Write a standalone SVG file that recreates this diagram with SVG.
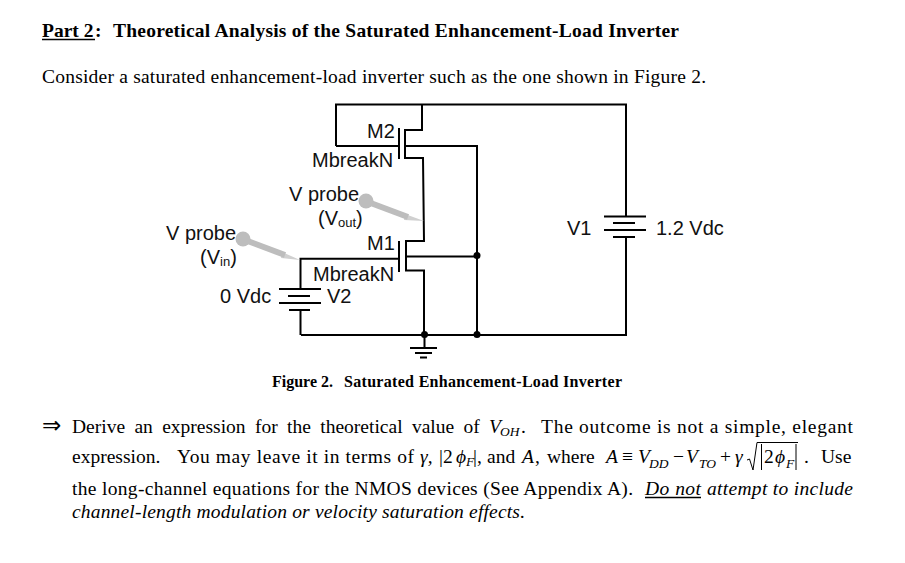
<svg xmlns="http://www.w3.org/2000/svg" width="905" height="563" viewBox="0 0 905 563">
<style>
.t{font-family:"Liberation Serif","Times New Roman",serif;font-size:19.5px;fill:#000}
.b{font-weight:bold}
.i{font-style:italic}
.u{font-size:13.500px}
.c{font-size:16px}
.s{font-family:"Liberation Sans",Arial,sans-serif;font-size:20px;fill:#111}
.w{fill:none;stroke:#000;stroke-width:2}
.p{fill:none;stroke:#bdbdbd;stroke-width:6}
.e{fill:#bdbdbd}
.g{fill:#d0d0d0}
</style>
<rect width="905" height="563" fill="#fff"/>
<g id="text">
<text class="t b" x="42" y="37">Part 2</text>
<path d="M42 39.500H95" stroke="#000" stroke-width="1.500" fill="none"/>
<text class="t b" x="95" y="37">:</text>
<text class="t b" x="113" y="37" textLength="566" lengthAdjust="spacing">Theoretical Analysis of the Saturated Enhancement-Load Inverter</text>
<text class="t" x="42" y="83" textLength="664" lengthAdjust="spacing">Consider a saturated enhancement-load inverter such as the one shown in Figure 2.</text>
<text class="t b c" x="272" y="387">Figure 2.</text>
<text class="t b c" x="344" y="387" textLength="278" lengthAdjust="spacing">Saturated Enhancement-Load Inverter</text>
<text x="42" y="433" style="font-family:'DejaVu Sans',sans-serif;font-size:23px">⇒</text>
<text class="t" x="72" y="433" style="word-spacing:4.500px">Derive an expression for the theoretical value of</text>
<text class="t i" x="489" y="433">V</text>
<text class="t i u" x="500" y="436">OH</text>
<text class="t" x="521" y="433">.</text>
<text class="t" x="541" y="433" textLength="312" lengthAdjust="spacing">The outcome is not a simple, elegant</text>
<text class="t" x="72" y="463">expression.</text>
<text class="t" x="177" y="463" textLength="237" lengthAdjust="spacing">You may leave it in terms of</text>
<text class="t i" x="420" y="463">γ,</text>
<text class="t" x="439" y="463">|2</text>
<text class="t i" x="456" y="463">ϕ</text>
<text class="t i u" x="466" y="466">F</text>
<text class="t" x="473" y="463">|,</text>
<text class="t" x="487" y="463">and</text>
<text class="t i" x="522" y="463">A</text>
<text class="t" x="535" y="463">,</text>
<text class="t" x="547" y="463">where</text>
<text class="t i" x="606" y="463">A</text>
<text class="t" x="622" y="463">≡</text>
<text class="t i" x="638" y="463">V</text>
<text class="t i u" x="649" y="468">DD</text>
<text class="t" x="673" y="463">−</text>
<text class="t i" x="686" y="463">V</text>
<text class="t i u" x="699" y="468">TO</text>
<text class="t" x="720" y="463">+</text>
<text class="t i" x="735" y="463">γ</text>
<text class="t" x="764" y="463">2</text>
<text class="t i" x="775" y="463">ϕ</text>
<text class="t i u" x="786" y="468">F</text>
<text class="t" x="804" y="463">.</text>
<text class="t" x="821" y="463">Use</text>
<text class="t" x="72" y="495" textLength="561" lengthAdjust="spacing">the long-channel equations for the NMOS devices (See Appendix A).</text>
<text class="t i" x="645" y="495" textLength="56" lengthAdjust="spacing">Do not</text>
<path d="M645 497.500H701" stroke="#000" stroke-width="1.500" fill="none"/>
<text class="t i" x="707" y="495" textLength="146" lengthAdjust="spacing">attempt to include</text>
<text class="t i" x="72" y="518" textLength="453" lengthAdjust="spacing">channel-length modulation or velocity saturation effects.</text>
</g>
<path d="M747 460l2.500-1 3.500 11 4-27.500h41M761.500 444v26M796 444v26" fill="none" stroke="#000" stroke-width="1"/>
<g id="connectors">
<path class="w" d="M422 104.500V130H405V158H423L424 241H406V270.500H424V335M336 146V104.500H626V216.500M336 146H398M405 146H477V335M626 237V335H301M406 256.500H477M300.500 289V258.700H398M300.500 310V335"/>
<path class="w" d="M399 128V159M399 241V272"/>
<path class="w" d="M424.500 335V348M410 348H437M415 353H432M420 357.500H427"/>
</g>
<g id="dots">
<circle cx="477" cy="255.500" r="3.500"/><circle cx="477" cy="334.500" r="3.500"/><circle cx="424.500" cy="334.500" r="3.500"/>
</g>
<g id="V1">
<path class="w" d="M604 216.500H646M613 223H635M604 230H646M613 237H635"/>
<text class="s" x="567" y="235">V1</text>
<text class="s" x="656" y="235">1.2 Vdc</text>
</g>
<g id="V2">
<path class="w" d="M279 289H321M288 296H310M279 303H321M289 310H310"/>
<text class="s" x="220" y="303">0 Vdc</text>
<text class="s" x="327" y="303">V2</text>
</g>
<g id="M2">
<text class="s" x="367" y="138">M2</text>
<text class="s" x="312" y="167">MbreakN</text>
</g>
<g id="M1">
<text class="s" x="367" y="250">M1</text>
<text class="s" x="313" y="281">MbreakN</text>
</g>
<g id="probe-out">
<path class="g" d="M405 214L424 221L404 220Z"/>
<path class="p" d="M368 202L408 217"/>
<circle class="e" cx="366" cy="201" r="7.500"/>
<text class="s" x="289" y="201">V probe</text>
<text class="s" x="318" y="225">(V<tspan font-size="13" dy="2">out</tspan><tspan dy="-2">)</tspan></text>
</g>
<g id="probe-in">
<path class="g" d="M282 252L300 260L281 258Z"/>
<path class="p" d="M245 240L285 255"/>
<circle class="e" cx="243" cy="239" r="7.500"/>
<text class="s" x="166" y="240">V probe</text>
<text class="s" x="200" y="264">(V<tspan font-size="13" dy="2">in</tspan><tspan dy="-2">)</tspan></text>
</g>
</svg>
